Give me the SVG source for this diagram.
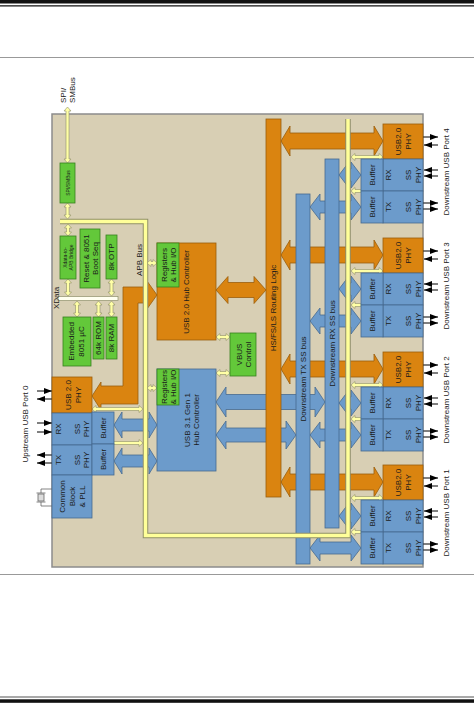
<svg xmlns="http://www.w3.org/2000/svg" width="474" height="711" viewBox="0 0 474 711">
<defs>
<style>
.chip{fill:#d8cfb4;stroke:#8c8c8c;stroke-width:1.5}
.b{fill:#6c9bcb;stroke:#46698f;stroke-width:0.8}
.o{fill:#da8410;stroke:#9a5e0c;stroke-width:0.8}
.g{fill:#63c83a;stroke:#37801f;stroke-width:0.8}
.ya{fill:#ffffa6;stroke:#8f8f6a;stroke-width:0.6}
.t{font-family:"Liberation Sans",Arial,sans-serif;font-size:8px;fill:#1a1a1a;text-anchor:middle;dominant-baseline:central}
.s{font-size:5px}
.st{text-anchor:start}
.k{stroke:#000;stroke-width:1;fill:none;marker-end:url(#ah)}
</style>
<marker id="ah" viewBox="0 0 8 6" refX="8" refY="3" markerWidth="8" markerHeight="6" markerUnits="userSpaceOnUse" orient="auto"><path d="M0,0L8,3L0,6z" fill="#000"/></marker>
</defs>
<rect width="474" height="711" fill="#fff"/>
<g id="page">
<rect x="0" y="0" width="474" height="3.5" fill="#111"/>
<line x1="0" y1="5.8" x2="474" y2="5.8" stroke="#111" stroke-width="1.2"/>
<line x1="0" y1="57.5" x2="474" y2="57.5" stroke="#999" stroke-width="1.2"/>
<line x1="0" y1="574.5" x2="474" y2="574.5" stroke="#999" stroke-width="1.2"/>
<line x1="0" y1="697" x2="474" y2="697" stroke="#555" stroke-width="1.2"/>
<rect x="0" y="699.3" width="474" height="3.5" fill="#111"/>
</g>
<g id="chip"><rect class="chip" x="52" y="114" width="371" height="453"/></g>

<g id="connectors">
<!-- orange L arrow upstream PHY to USB2 controller -->
<polygon class="o" points="92,396 101,382 101,386 123,386 123,287 147,287 147,281 157,295 147,309 147,303 138,303 138,404 101,404 101,410"/>
<!-- USB2 controller to routing -->
<polygon class="o" points="216,290 228,276.5 228,282.5 254,282.5 254,276.5 266,290 254,303.5 254,297.5 228,297.5 228,303.5"/>
<!-- routing to downstream PHYs -->
<polygon class="o" points="281,141 290,126 290,133 374,133 374,126 383,141 374,156 374,149 290,149 290,156"/>
<polygon class="o" points="281,255 290,240 290,247 374,247 374,240 383,255 374,270 374,263 290,263 290,270"/>
<polygon class="o" points="281,369 290,354 290,361 374,361 374,354 383,369 374,384 374,377 290,377 290,384"/>
<polygon class="o" points="281,482 290,467 290,474 374,474 374,467 383,482 374,497 374,490 290,490 290,497"/>
<!-- upstream buffers to USB3 controller -->
<polygon class="b" points="114,425 122,412 122,419 149,419 149,412 157,425 149,438 149,431 122,431 122,438"/>
<polygon class="b" points="114,461 122,448 122,455 149,455 149,448 157,461 149,474 149,467 122,467 122,474"/>
<!-- controller to buses -->
<polygon class="b" points="216,402 226,387 226,394.5 315,394.5 315,387 325,402 315,417 315,409.5 226,409.5 226,417"/>
<polygon class="b" points="216,435 226,421 226,428 286,428 286,421 296,435 286,449 286,442 226,442 226,449"/>
<!-- TX bus to TX buffers -->
<polygon class="b" points="310,207 320,194 320,201 351,201 351,194 361,207 351,220 351,213 320,213 320,220"/>
<polygon class="b" points="310,321 320,308 320,315 351,315 351,308 361,321 351,334 351,327 320,327 320,334"/>
<polygon class="b" points="310,435 320,422 320,429 351,429 351,422 361,435 351,448 351,441 320,441 320,448"/>
<polygon class="b" points="310,548 320,535 320,542 351,542 351,535 361,548 351,561 351,554 320,554 320,561"/>
</g>

<g id="tx-bus"><rect class="b" x="296" y="194" width="14" height="370"/>
<text class="t" transform="translate(303.5,379) rotate(-90)">Downstream TX SS bus</text></g>

<g id="connectors-rx">
<polygon class="b" points="339,175 349,162 349,169 351,169 351,162 361,175 351,188 351,181 349,181 349,188"/>
<polygon class="b" points="339,289 349,276 349,283 351,283 351,276 361,289 351,302 351,295 349,295 349,302"/>
<polygon class="b" points="339,403 349,390 349,397 351,397 351,390 361,403 351,416 351,409 349,409 349,416"/>
<polygon class="b" points="339,516 349,503 349,510 351,510 351,503 361,516 351,529 351,522 349,522 349,529"/>
</g>
<g id="rx-bus"><rect class="b" x="325" y="159" width="14" height="369"/>
<text class="t" transform="translate(332.5,343.5) rotate(-90)">Downstream RX SS bus</text></g>

<g id="routing"><rect class="o" x="266" y="119" width="15" height="378"/>
<text class="t" transform="translate(273.5,308) rotate(-90)">HS/FS/LS Routing Logic</text></g>

<!-- APB bus -->
<g id="apb-bus">
<path d="M60,221.5H145.5V535.5H348V119" fill="none" stroke="#8f8f6a" stroke-width="5.5"/>
<path d="M60,221.5H145.5V535.5H348V119" fill="none" stroke="#ffff99" stroke-width="3.5"/>
<text class="t" transform="translate(139.5,260) rotate(-90)">APB Bus</text>
</g>
<g id="xdata-bus"><rect x="58" y="296.5" width="60" height="4" fill="#fffff0" stroke="#8f8f6a" stroke-width="0.7"/>
<text class="t" transform="translate(56,298) rotate(-90)">XData</text></g>

<g id="yellow-links">
<polygon class="ya" points="67.5,107 71,111 69,111 69,159 71,159 67.5,163 64,159 66,159 66,111 64,111"/>
<polygon class="ya" points="67.5,203 71,207 69,207 69,215 71,215 67.5,219 64,215 66,215 66,207 64,207"/>
<polygon class="ya" points="68,224 71.5,228 69.5,228 69.5,232 71.5,232 68,236 64.5,232 66.5,232 66.5,228 64.5,228"/>
<polygon class="ya" points="68,279 71.5,283 69.5,283 69.5,292 71.5,292 68,296 64.5,292 66.5,292 66.5,283 64.5,283"/>
<polygon class="ya" points="111.5,279 115,283 113,283 113,292 115,292 111.5,296 108,292 110,292 110,283 108,283"/>
<polygon class="ya" points="77,301 80.5,305 78.5,305 78.5,313 80.5,313 77,317 73.5,313 75.5,313 75.5,305 73.5,305"/>
<polygon class="ya" points="98.5,301 102,305 100,305 100,313 102,313 98.5,317 95,313 97,313 97,305 95,305"/>
<polygon class="ya" points="111.5,301 115,305 113,305 113,313 115,313 111.5,317 108,313 110,313 110,305 108,305"/>
<polygon class="ya" points="147,263 151,259.5 151,261.5 153,261.5 153,259.5 157,263 153,266.5 153,264.5 151,264.5 151,266.5"/>
<polygon class="ya" points="147,388 151,384.5 151,386.5 153,386.5 153,384.5 157,388 153,391.5 153,389.5 151,389.5 151,391.5"/>
<polygon class="ya" points="216,337 220,333.5 220,335.5 226,335.5 226,333.5 230,337 226,340.5 226,338.5 220,338.5 220,340.5"/>
<polygon class="ya" points="216,373 220,369.5 220,371.5 226,371.5 226,369.5 230,373 226,376.5 226,374.5 220,374.5 220,376.5"/>
<polygon class="ya" points="92,409 96,405.5 96,407.5 139,407.5 139,405.5 143,409 139,412.5 139,410.5 96,410.5 96,412.5"/>
<polygon class="ya" points="92,443 96,439.5 96,441.5 139,441.5 139,439.5 143,443 139,446.5 139,444.5 96,444.5 96,446.5"/>
<polygon class="ya" points="351,157 355,153.5 355,155.5 379,155.5 379,153.5 383,157 379,160.5 379,158.5 355,158.5 355,160.5"/>
<polygon class="ya" points="351,191 355,187.5 355,189.5 379,189.5 379,187.5 383,191 379,194.5 379,192.5 355,192.5 355,194.5"/>
<polygon class="ya" points="351,271 355,267.5 355,269.5 379,269.5 379,267.5 383,271 379,274.5 379,272.5 355,272.5 355,274.5"/>
<polygon class="ya" points="351,305 355,301.5 355,303.5 379,303.5 379,301.5 383,305 379,308.5 379,306.5 355,306.5 355,308.5"/>
<polygon class="ya" points="351,385 355,381.5 355,383.5 379,383.5 379,381.5 383,385 379,388.5 379,386.5 355,386.5 355,388.5"/>
<polygon class="ya" points="351,419 355,415.5 355,417.5 379,417.5 379,415.5 383,419 379,422.5 379,420.5 355,420.5 355,422.5"/>
<polygon class="ya" points="351,498 355,494.5 355,496.5 379,496.5 379,494.5 383,498 379,501.5 379,499.5 355,499.5 355,501.5"/>
<polygon class="ya" points="351,532 355,528.5 355,530.5 379,530.5 379,528.5 383,532 379,535.5 379,533.5 355,533.5 355,535.5"/>
</g>

<g id="ext-arrows">
<line class="k" x1="37" y1="391" x2="52" y2="391"/><line class="k" x1="52" y1="399" x2="37" y2="399"/>
<line class="k" x1="37" y1="423" x2="52" y2="423"/><line class="k" x1="37" y1="432" x2="52" y2="432"/>
<line class="k" x1="52" y1="455" x2="37" y2="455"/><line class="k" x1="52" y1="463" x2="37" y2="463"/>
<line class="k" x1="423" y1="137" x2="438" y2="137"/><line class="k" x1="438" y1="145" x2="424" y2="145"/>
<line class="k" x1="438" y1="170" x2="424" y2="170"/><line class="k" x1="438" y1="176" x2="424" y2="176"/>
<line class="k" x1="423" y1="203" x2="438" y2="203"/><line class="k" x1="423" y1="209" x2="438" y2="209"/>
<line class="k" x1="423" y1="251" x2="438" y2="251"/><line class="k" x1="438" y1="259" x2="424" y2="259"/>
<line class="k" x1="438" y1="284" x2="424" y2="284"/><line class="k" x1="438" y1="290" x2="424" y2="290"/>
<line class="k" x1="423" y1="317" x2="438" y2="317"/><line class="k" x1="423" y1="323" x2="438" y2="323"/>
<line class="k" x1="423" y1="365" x2="438" y2="365"/><line class="k" x1="438" y1="373" x2="424" y2="373"/>
<line class="k" x1="438" y1="398" x2="424" y2="398"/><line class="k" x1="438" y1="404" x2="424" y2="404"/>
<line class="k" x1="423" y1="431" x2="438" y2="431"/><line class="k" x1="423" y1="437" x2="438" y2="437"/>
<line class="k" x1="423" y1="478" x2="438" y2="478"/><line class="k" x1="438" y1="486" x2="424" y2="486"/>
<line class="k" x1="438" y1="511" x2="424" y2="511"/><line class="k" x1="438" y1="517" x2="424" y2="517"/>
<line class="k" x1="423" y1="544" x2="438" y2="544"/><line class="k" x1="423" y1="550" x2="438" y2="550"/>
<!-- crystal -->
<path d="M52,489H41V493M41,502V506H52" fill="none" stroke="#666" stroke-width="0.8"/>
<rect x="38" y="494" width="6" height="7" fill="#ddd" stroke="#666" stroke-width="0.8"/>
<path d="M36.5,493H45.5M36.5,502H45.5" stroke="#666" stroke-width="0.8"/>
</g>

<g id="labels">
<text class="t st" transform="translate(0,103) rotate(-90)"><tspan x="0" y="62.5">SPI/</tspan><tspan x="0" y="71.5">SMBus</tspan></text>
<text class="t" transform="translate(25,424) rotate(-90)">Upstream USB Port 0</text>
<text class="t" transform="translate(446.5,172) rotate(-90)">Downstream USB Port 4</text>
<text class="t" transform="translate(446.5,286) rotate(-90)">Downstream USB Port 3</text>
<text class="t" transform="translate(446.5,400) rotate(-90)">Downstream USB Port 2</text>
<text class="t" transform="translate(446.5,513) rotate(-90)">Downstream USB Port 1</text>
</g>

<g id="spi-smbus"><rect class="g" x="60" y="163" width="15" height="40"/>
<text class="t s" transform="translate(67.5,183) rotate(-90)">SPI/SMBus</text></g>
<g id="xdata-apb-bridge"><rect class="g" x="60" y="236" width="16" height="43"/>
<text class="t s" transform="translate(68,257.5) rotate(-90)"><tspan x="0" y="-3">Xdata-to-</tspan><tspan x="0" y="3">APB Bridge</tspan></text></g>
<g id="reset-boot"><rect class="g" x="80" y="229" width="20" height="59"/>
<text class="t" transform="translate(90,258.5) rotate(-90)"><tspan x="0" y="-4.5">Reset &amp; 8051</tspan><tspan x="0" y="4.5">Boot Seq</tspan></text></g>
<g id="otp"><rect class="g" x="106" y="235" width="11" height="44"/>
<text class="t" transform="translate(111.5,257) rotate(-90)">8k OTP</text></g>
<g id="embedded-8051"><rect class="g" x="63" y="317" width="28" height="49"/>
<text class="t" transform="translate(76,341.5) rotate(-90)"><tspan x="0" y="-5">Embedded</tspan><tspan x="0" y="5">8051 µC</tspan></text></g>
<g id="rom"><rect class="g" x="93" y="317" width="11" height="42"/>
<text class="t" transform="translate(98.5,338) rotate(-90)">64k ROM</text></g>
<g id="ram"><rect class="g" x="106" y="317" width="11" height="42"/>
<text class="t" transform="translate(111.5,338) rotate(-90)">8k RAM</text></g>

<g id="usb2-hub-controller"><rect class="o" x="157" y="243" width="59" height="97"/>
<rect class="g" x="157" y="243" width="22" height="44"/>
<text class="t" transform="translate(168.5,265) rotate(-90)"><tspan x="0" y="-4.5">Registers</tspan><tspan x="0" y="4.5">&amp; Hub I/O</tspan></text>
<text class="t" transform="translate(186.5,292) rotate(-90)">USB 2.0 Hub Controller</text></g>
<g id="vbus-control"><rect class="g" x="230" y="333" width="26" height="43"/>
<text class="t" transform="translate(243.5,354.5) rotate(-90)"><tspan x="0" y="-4.5">VBUS</tspan><tspan x="0" y="4.5">Control</tspan></text></g>
<g id="usb3-hub-controller"><rect class="b" x="157" y="369" width="59" height="102"/>
<rect class="g" x="157" y="369" width="22" height="36"/>
<text class="t" transform="translate(168.5,387) rotate(-90)"><tspan x="0" y="-4.5">Registers</tspan><tspan x="0" y="4.5">&amp; Hub I/O</tspan></text>
<text class="t" transform="translate(191,420) rotate(-90)"><tspan x="0" y="-4.5">USB 3.1 Gen 1</tspan><tspan x="0" y="4.5">Hub Controller</tspan></text></g>

<g id="upstream-port0">
<rect class="o" x="52" y="377" width="40" height="36"/>
<text class="t" transform="translate(73,395) rotate(-90)"><tspan x="0" y="-5">USB 2.0</tspan><tspan x="0" y="5">PHY</tspan></text>
<rect class="b" x="52" y="413" width="40" height="32"/>
<text class="t" transform="translate(58.5,429) rotate(-90)">RX</text>
<text class="t" transform="translate(81,429) rotate(-90)"><tspan x="0" y="-4.5">SS</tspan><tspan x="0" y="4.5">PHY</tspan></text>
<rect class="b" x="52" y="445" width="40" height="30"/>
<text class="t" transform="translate(58.5,460) rotate(-90)">TX</text>
<text class="t" transform="translate(81,460) rotate(-90)"><tspan x="0" y="-4.5">SS</tspan><tspan x="0" y="4.5">PHY</tspan></text>
<rect class="b" x="92" y="412" width="22" height="32"/>
<text class="t" transform="translate(103,428) rotate(-90)">Buffer</text>
<rect class="b" x="92" y="444" width="22" height="31"/>
<text class="t" transform="translate(103,459.5) rotate(-90)">Buffer</text>
</g>
<g id="common-block"><rect class="b" x="52" y="475" width="40" height="43"/>
<text class="t" transform="translate(71.5,496.5) rotate(-90)"><tspan x="0" y="-10">Common</tspan><tspan x="0" y="0">Block</tspan><tspan x="0" y="10">&amp; PLL</tspan></text></g>

<g id="port4">
<rect class="o" x="383" y="124" width="40" height="35"/>
<text class="t" transform="translate(403,141.5) rotate(-90)"><tspan x="0" y="-5">USB2.0</tspan><tspan x="0" y="5">PHY</tspan></text>
<rect class="b" x="383" y="159" width="40" height="32"/>
<text class="t" transform="translate(388.5,175) rotate(-90)">RX</text>
<text class="t" transform="translate(413,175) rotate(-90)"><tspan x="0" y="-5">SS</tspan><tspan x="0" y="5">PHY</tspan></text>
<rect class="b" x="383" y="191" width="40" height="32"/>
<text class="t" transform="translate(388.5,207) rotate(-90)">TX</text>
<text class="t" transform="translate(413,207) rotate(-90)"><tspan x="0" y="-5">SS</tspan><tspan x="0" y="5">PHY</tspan></text>
<rect class="b" x="361" y="159" width="22" height="32"/>
<text class="t" transform="translate(372,175) rotate(-90)">Buffer</text>
<rect class="b" x="361" y="191" width="22" height="32"/>
<text class="t" transform="translate(372,207) rotate(-90)">Buffer</text>
</g>
<g id="port3">
<rect class="o" x="383" y="238" width="40" height="35"/>
<text class="t" transform="translate(403,255.5) rotate(-90)"><tspan x="0" y="-5">USB2.0</tspan><tspan x="0" y="5">PHY</tspan></text>
<rect class="b" x="383" y="273" width="40" height="32"/>
<text class="t" transform="translate(388.5,289) rotate(-90)">RX</text>
<text class="t" transform="translate(413,289) rotate(-90)"><tspan x="0" y="-5">SS</tspan><tspan x="0" y="5">PHY</tspan></text>
<rect class="b" x="383" y="305" width="40" height="32"/>
<text class="t" transform="translate(388.5,321) rotate(-90)">TX</text>
<text class="t" transform="translate(413,321) rotate(-90)"><tspan x="0" y="-5">SS</tspan><tspan x="0" y="5">PHY</tspan></text>
<rect class="b" x="361" y="273" width="22" height="32"/>
<text class="t" transform="translate(372,289) rotate(-90)">Buffer</text>
<rect class="b" x="361" y="305" width="22" height="32"/>
<text class="t" transform="translate(372,321) rotate(-90)">Buffer</text>
</g>
<g id="port2">
<rect class="o" x="383" y="352" width="40" height="35"/>
<text class="t" transform="translate(403,369.5) rotate(-90)"><tspan x="0" y="-5">USB2.0</tspan><tspan x="0" y="5">PHY</tspan></text>
<rect class="b" x="383" y="387" width="40" height="32"/>
<text class="t" transform="translate(388.5,403) rotate(-90)">RX</text>
<text class="t" transform="translate(413,403) rotate(-90)"><tspan x="0" y="-5">SS</tspan><tspan x="0" y="5">PHY</tspan></text>
<rect class="b" x="383" y="419" width="40" height="32"/>
<text class="t" transform="translate(388.5,435) rotate(-90)">TX</text>
<text class="t" transform="translate(413,435) rotate(-90)"><tspan x="0" y="-5">SS</tspan><tspan x="0" y="5">PHY</tspan></text>
<rect class="b" x="361" y="387" width="22" height="32"/>
<text class="t" transform="translate(372,403) rotate(-90)">Buffer</text>
<rect class="b" x="361" y="419" width="22" height="32"/>
<text class="t" transform="translate(372,435) rotate(-90)">Buffer</text>
</g>
<g id="port1">
<rect class="o" x="383" y="465" width="40" height="35"/>
<text class="t" transform="translate(403,482.5) rotate(-90)"><tspan x="0" y="-5">USB2.0</tspan><tspan x="0" y="5">PHY</tspan></text>
<rect class="b" x="383" y="500" width="40" height="32"/>
<text class="t" transform="translate(388.5,516) rotate(-90)">RX</text>
<text class="t" transform="translate(413,516) rotate(-90)"><tspan x="0" y="-5">SS</tspan><tspan x="0" y="5">PHY</tspan></text>
<rect class="b" x="383" y="532" width="40" height="32"/>
<text class="t" transform="translate(388.5,548) rotate(-90)">TX</text>
<text class="t" transform="translate(413,548) rotate(-90)"><tspan x="0" y="-5">SS</tspan><tspan x="0" y="5">PHY</tspan></text>
<rect class="b" x="361" y="500" width="22" height="32"/>
<text class="t" transform="translate(372,516) rotate(-90)">Buffer</text>
<rect class="b" x="361" y="532" width="22" height="32"/>
<text class="t" transform="translate(372,548) rotate(-90)">Buffer</text>
</g>
</svg>
